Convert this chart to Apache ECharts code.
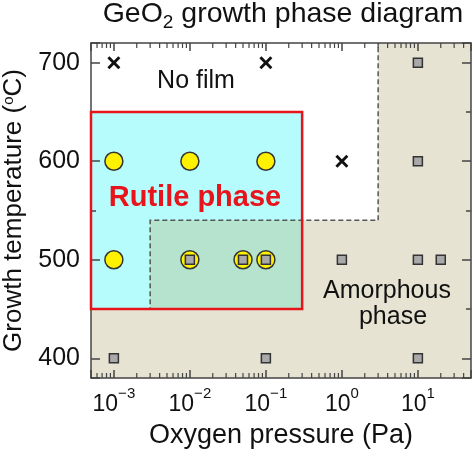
<!DOCTYPE html>
<html>
<head>
<meta charset="utf-8">
<script src="https://cdn.jsdelivr.net/npm/echarts@6/dist/echarts.min.js"></script>
<style>
html, body { margin: 0; padding: 0; background: #fff; }
#main { width: 474px; height: 454px; }
</style>
</head>
<body>
<div id="main"></div>
<script>
var xMin = 5e-4, xMax = 50;
var yMin = 380, yMax = 720;

// measured points
var noFilmX = [0.001, 0.1, 1];
var noFilmY = [700, 700, 600];
var rutileX = [0.001, 0.01, 0.1, 0.001, 0.01, 0.05, 0.1];
var rutileY = [600, 600, 600, 500, 500, 500, 500];
var amorphX = [10, 10, 0.01, 0.05, 0.1, 1, 10, 20, 0.001, 0.1, 10];
var amorphY = [700, 600, 500, 500, 500, 500, 500, 500, 400, 400, 400];

// phase regions
var rutileBoxX = [5e-4, 0.3];
var rutileBoxY = [450, 650];
var amorphEdgeX = [5e-4, 3e-3, 3e-3, 3, 3];
var amorphEdgeY = [450, 450, 540, 540, 720];

// minor ticks of the log axis
var minorX = [6e-4, 7e-4, 8e-4, 9e-4,
  0.002, 0.003, 0.004, 0.005, 0.006, 0.007, 0.008, 0.009,
  0.02, 0.03, 0.04, 0.05, 0.06, 0.07, 0.08, 0.09,
  0.2, 0.3, 0.4, 0.5, 0.6, 0.7, 0.8, 0.9,
  2, 3, 4, 5, 6, 7, 8, 9,
  20, 30, 40];

var FONT = 'Liberation Sans';
var axisColor = '#444';

function zip(xs, ys) {
  return xs.map(function (x, i) { return [x, ys[i]]; });
}

var myChart = echarts.init(document.getElementById('main'), null, {renderer: 'canvas'});

function xLabel(v) {
  var e = Math.log10(v);
  if (Math.abs(e - Math.round(e)) > 1e-6) return '';
  e = Math.round(e);
  return '{b|10}{s|' + (e < 0 ? '\u2212' + (-e) : e) + '}';
}

function regions(params, api) {
  var edge = zip(amorphEdgeX, amorphEdgeY).map(function (p) { return api.coord(p); });
  var beige = edge.concat([api.coord([xMax, yMax]), api.coord([xMax, yMin]), api.coord([xMin, yMin])]);
  var b0 = api.coord([rutileBoxX[0], rutileBoxY[1]]);
  var b1 = api.coord([rutileBoxX[1], rutileBoxY[0]]);
  var g0 = api.coord([amorphEdgeX[1], amorphEdgeY[2]]);
  return {
    type: 'group',
    children: [
      {type: 'polygon', shape: {points: beige}, style: {fill: '#e6e3d2'}},
      {type: 'rect', shape: {x: b0[0], y: b0[1], width: b1[0] - b0[0], height: b1[1] - b0[1]}, style: {fill: '#b6fcfc'}},
      {type: 'rect', shape: {x: g0[0], y: g0[1], width: b1[0] - g0[0], height: b1[1] - g0[1]}, style: {fill: '#b5e3cd'}},
      {type: 'polyline', shape: {points: edge}, style: {stroke: '#555', lineWidth: 1.5, lineDash: [5, 3], fill: null}}
    ]
  };
}

function redBox(params, api) {
  var b0 = api.coord([rutileBoxX[0], rutileBoxY[1]]);
  var b1 = api.coord([rutileBoxX[1], rutileBoxY[0]]);
  return {type: 'rect', shape: {x: b0[0], y: b0[1], width: b1[0] - b0[0], height: b1[1] - b0[1]},
    style: {fill: null, stroke: '#e8141b', lineWidth: 2.5}};
}

function minorTicks(params, api) {
  var b = api.coord([api.value(0), yMin]);
  var t = api.coord([api.value(0), yMax]);
  var st = {stroke: axisColor, lineWidth: 1.2};
  return {type: 'group', children: [
    {type: 'line', shape: {x1: b[0], y1: b[1], x2: b[0], y2: b[1] - 5}, style: st},
    {type: 'line', shape: {x1: t[0], y1: t[1], x2: t[0], y2: t[1] + 5}, style: st}
  ]};
}

var xBase = {
  type: 'log', logBase: 10, min: xMin, max: xMax, z: 3,
  axisLine: {show: true, lineStyle: {color: axisColor, width: 1.5}},
  axisTick: {show: true, inside: true, length: 8, lineStyle: {color: axisColor, width: 1.5}},
  splitLine: {show: false}
};
var yBase = {
  type: 'value', min: yMin, max: yMax, splitNumber: 3, z: 3,
  axisLine: {show: true, lineStyle: {color: axisColor, width: 1.5}},
  axisTick: {show: true, inside: true, length: 9, lineStyle: {color: axisColor, width: 1.5}},
  minorTick: {show: true, splitNumber: 2, length: 5, lineStyle: {color: axisColor, width: 1.5}},
  splitLine: {show: false}
};

var option = {
  animation: false,
  grid: {left: 91, right: 3, top: 43, bottom: 76, containLabel: false, outerBoundsMode: 'none'},
  xAxis: [
    Object.assign({}, xBase, {
      position: 'bottom',
      name: 'Oxygen pressure (Pa)', nameLocation: 'middle', nameGap: 44,
      nameTextStyle: {fontFamily: FONT, fontSize: 27, color: '#111'},
      axisLabel: {
        formatter: xLabel, margin: 8,
        rich: {
          b: {fontFamily: FONT, fontSize: 23, color: '#111', lineHeight: 30, verticalAlign: 'bottom'},
          s: {fontFamily: FONT, fontSize: 15, color: '#111', lineHeight: 30, verticalAlign: 'top'}
        }
      }
    }),
    Object.assign({}, xBase, {position: 'top', axisLabel: {show: false}})
  ],
  yAxis: [
    Object.assign({}, yBase, {
      position: 'left',
      name: 'Growth temperature ({o|o}C)', nameLocation: 'middle', nameGap: 64,
      nameTextStyle: {fontFamily: FONT, fontSize: 26, color: '#111',
        rich: {o: {fontFamily: FONT, fontSize: 15, color: '#111', verticalAlign: 'top'}}},
      axisLabel: {
        fontFamily: FONT, fontSize: 25, color: '#111', margin: 11,
        formatter: function (v) { return v % 100 === 0 ? String(v) : ''; }
      }
    }),
    Object.assign({}, yBase, {position: 'right', axisLabel: {show: false}})
  ],
  graphic: [
    {type: 'text', x: 283, y: 16, style: {
      text: '{a|GeO}{s|2}{a| growth phase diagram}', align: 'center', verticalAlign: 'middle',
      rich: {
        a: {fontFamily: FONT, fontSize: 28.5, fill: '#111', lineHeight: 33, verticalAlign: 'top'},
        s: {fontFamily: FONT, fontSize: 19, fill: '#111', lineHeight: 33, verticalAlign: 'bottom'}
      }}},
    {type: 'text', x: 196, y: 81, z: 10, style: {text: 'No film', font: '25px ' + FONT, fill: '#111', align: 'center', verticalAlign: 'middle'}},
    {type: 'text', x: 195, y: 198, z: 10, style: {text: 'Rutile phase', font: 'bold 29px ' + FONT, fill: '#e8141b', align: 'center', verticalAlign: 'middle'}},
    {type: 'text', x: 387, y: 291, z: 10, style: {text: 'Amorphous', font: '25px ' + FONT, fill: '#111', align: 'center', verticalAlign: 'middle'}},
    {type: 'text', x: 393, y: 317, z: 10, style: {text: 'phase', font: '25px ' + FONT, fill: '#111', align: 'center', verticalAlign: 'middle'}}
  ],
  series: [
    {type: 'custom', z: 1, silent: true, renderItem: regions, data: [[0.01, 500]], clip: false},
    {type: 'custom', z: 4, silent: true, renderItem: minorTicks, data: minorX.map(function (v) { return [v, 550]; })},
    {type: 'custom', z: 5, silent: true, renderItem: redBox, data: [[0.01, 500]], clip: false},
    {
      name: 'No film', type: 'scatter', z: 6, symbolSize: 13,
      symbol: 'path://M1.6,0L5,3.4L8.4,0L10,1.6L6.6,5L10,8.4L8.4,10L5,6.6L1.6,10L0,8.4L3.4,5L0,1.6Z',
      itemStyle: {color: '#111', opacity: 1},
      data: zip(noFilmX, noFilmY)
    },
    {
      name: 'Rutile', type: 'scatter', z: 6, symbol: 'circle', symbolSize: 18,
      itemStyle: {color: '#fff200', borderColor: '#333', borderWidth: 1.5, opacity: 1},
      data: zip(rutileX, rutileY)
    },
    {
      name: 'Amorphous', type: 'scatter', z: 7, symbol: 'rect', symbolSize: 9,
      itemStyle: {color: '#a9a9a9', borderColor: '#333', borderWidth: 1.5, opacity: 1},
      data: zip(amorphX, amorphY)
    }
  ]
};
myChart.setOption(option);
</script>
</body>
</html>
